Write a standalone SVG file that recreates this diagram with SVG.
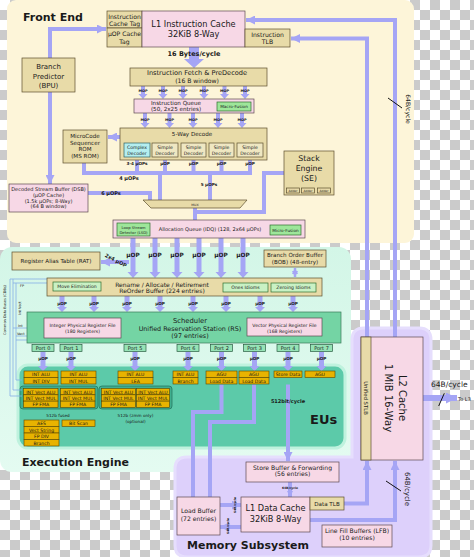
<svg xmlns="http://www.w3.org/2000/svg" width="474" height="557" viewBox="0 0 474 557">
<defs>
<pattern id="chk" width="20" height="20" patternUnits="userSpaceOnUse"><rect width="20" height="20" fill="#fff"/><rect x="10" width="10" height="10" fill="#cbcbcb"/><rect y="10" width="10" height="10" fill="#cbcbcb"/></pattern>
<linearGradient id="mint" x1="0" y1="0" x2="0" y2="1"><stop offset="0" stop-color="#d3f6e7"/><stop offset="1" stop-color="#e4fbf1"/></linearGradient>
<marker id="ah" markerUnits="userSpaceOnUse" markerWidth="9" markerHeight="9" viewBox="0 0 10 10" refX="10" refY="5" orient="auto"><path d="M0,0 L10,5 L0,10 z" fill="#a5a5f5"/></marker>
<marker id="as" markerUnits="userSpaceOnUse" markerWidth="6" markerHeight="6" viewBox="0 0 10 10" refX="10" refY="5" orient="auto-start-reverse"><path d="M0,0 L10,5 L0,10 z" fill="#a5a5f5"/></marker>
<marker id="al" markerUnits="userSpaceOnUse" markerWidth="11" markerHeight="11" viewBox="0 0 10 10" refX="10" refY="5" orient="auto"><path d="M0,0 L10,5 L0,10 z" fill="#a5a5f5"/></marker>
<style>
text{font-family:"DejaVu Sans","Liberation Sans",sans-serif;fill:#1a1a1a}
.b{font-weight:bold}
.m{text-anchor:middle}
.tan{fill:#e8dba8;stroke:#5c4f2e;stroke-width:.7}
.pink{fill:#f7d8e6;stroke:#5c4a50;stroke-width:.7}
.grn{fill:#9ee69a;stroke:#2e6e2e;stroke-width:.7}
.lg{fill:#c9f1c4;stroke:#2e6e2e;stroke-width:.7}
.eu{fill:#e8b300;stroke:#594500;stroke-width:.6}
.port{fill:#96e3b6;stroke:#2b5e43;stroke-width:.7}
.dec{fill:#efe7c2;stroke:#5c4f2e;stroke-width:.7}
.bus{fill:none;stroke:#a5a5f5;stroke-width:4}
.ar{fill:#a5a5f5}
.cdb{fill:none;stroke:#86aee6;stroke-width:.8}
.sl{stroke:#111;stroke-width:1}
.s3{font-size:3.5px}.s4{font-size:4.2px}.s45{font-size:4.6px}.s5{font-size:5px}.s55{font-size:5.6px}.s6{font-size:6.1px}.s7{font-size:7px}.s8{font-size:8.2px}
</style>
</defs>
<rect width="474" height="557" fill="url(#chk)"/>

<g id="containers">
<rect id="front-end-area" x="7" y="0" width="407" height="243" rx="9" fill="#fdf5d9"/>
<rect id="execution-engine-area" x="0" y="247" width="351" height="225" rx="12" fill="url(#mint)"/>
<path id="memory-subsystem-area" d="M187,457 H352 V340 Q352,328 364,328 H419 Q431,328 431,340 V545 Q431,557 419,557 H187 Q175,557 175,545 V469 Q175,457 187,457 Z" fill="#ddd0fb" stroke="#e6defd" stroke-width="3"/>
<rect id="eus-area" x="18" y="365" width="327" height="83" rx="10" fill="#5ccaa9" stroke="#bff2de" stroke-width="3"/>
<rect x="20" y="386" width="78" height="23" rx="3" fill="#3fae8f" stroke="#20705a" stroke-width=".7"/>
<rect x="99" y="386" width="73" height="23" rx="3" fill="#3fae8f" stroke="#20705a" stroke-width=".7"/>
<text x="23" y="21" class="b" font-size="11">Front End</text>
<text x="22" y="466" class="b" font-size="11">Execution Engine</text>
<text x="187" y="549" class="b" font-size="11">Memory Subsystem</text>
<text x="310" y="424" class="b" font-size="13">EUs</text>
</g>

<g id="connectors">
<path class="bus" d="M395,337 V20 H246" marker-end="url(#ah)"/>
<path class="bus" d="M367,337 V38.5 H291" marker-end="url(#ah)"/>
<path class="bus" d="M50,75 V29 H106" marker-end="url(#ah)"/>
<path class="bus" d="M50,75 V184" marker-end="url(#ah)"/>
<path class="ar" d="M189,47 h10 v12 h5 l-10,9 l-10,-9 h5 z"/>
<text x="194" y="56" class="b m" font-size="6.5">16 Bytes/cycle</text>
<path class="ar" d="M141,86 h4 v8 h2.5 l-4.5,5 l-4.5,-5 h2.5 z M161,86 h4 v8 h2.5 l-4.5,5 l-4.5,-5 h2.5 z M181,86 h4 v8 h2.5 l-4.5,5 l-4.5,-5 h2.5 z M202,86 h4 v8 h2.5 l-4.5,5 l-4.5,-5 h2.5 z M222.5,86 h4 v8 h2.5 l-4.5,5 l-4.5,-5 h2.5 z M243,86 h4 v8 h2.5 l-4.5,5 l-4.5,-5 h2.5 z"/>
<g class="b m s3"><text x="143" y="92">MOP</text><text x="163" y="92">MOP</text><text x="183" y="92">MOP</text><text x="204" y="92">MOP</text><text x="224.5" y="92">MOP</text><text x="245" y="92">MOP</text></g>
<path class="ar" d="M143,113 h4 v10 h2.5 l-4.5,5 l-4.5,-5 h2.5 z M167.5,113 h4 v10 h2.5 l-4.5,5 l-4.5,-5 h2.5 z M191,113 h4 v10 h2.5 l-4.5,5 l-4.5,-5 h2.5 z M216,113 h4 v10 h2.5 l-4.5,5 l-4.5,-5 h2.5 z M240,113 h4 v10 h2.5 l-4.5,5 l-4.5,-5 h2.5 z"/>
<g class="b m s3"><text x="145" y="121">MOP</text><text x="169.5" y="121">MOP</text><text x="193" y="121">MOP</text><text x="218" y="121">MOP</text><text x="242" y="121">MOP</text></g>
<path class="bus" d="M120,137 H108" marker-end="url(#ah)"/>
<path class="bus" d="M137,157 V173 M165,157 V173 M193.5,157 V173 M221.5,157 V173 M250,157 V173 M84,163 V173 H252 M160,173 V201 M210,173 V201"/>
<path class="bus" d="M88,193 H150 V201"/>
<path class="bus" d="M195,208 V220 M284,173 H264 V212 H193"/>
<g class="b m"><text x="129" y="180" class="s5">4 µOPs</text><text x="111" y="195" class="s5">6 µOPs</text><text x="209" y="186" class="s4">5 µOPs</text>
<text x="137" y="165" class="s4">3-4 µOPs</text><text x="165" y="165" class="s4">µOP</text><text x="193.5" y="165" class="s4">µOP</text><text x="221.5" y="165" class="s4">µOP</text><text x="250" y="165" class="s4">µOP</text></g>
<path class="ar" d="M130.5,238 h5 v34 h3 l-5.5,6 l-5.5,-6 h3 z M152.5,238 h5 v34 h3 l-5.5,6 l-5.5,-6 h3 z M174.5,238 h5 v34 h3 l-5.5,6 l-5.5,-6 h3 z M196.5,238 h5 v34 h3 l-5.5,6 l-5.5,-6 h3 z M218.5,238 h5 v34 h3 l-5.5,6 l-5.5,-6 h3 z M240.5,238 h5 v34 h3 l-5.5,6 l-5.5,-6 h3 z"/>
<g class="b m" font-size="5.8"><text x="133" y="257">µOP</text><text x="155" y="257">µOP</text><text x="177" y="257">µOP</text><text x="199" y="257">µOP</text><text x="221" y="257">µOP</text><text x="243" y="257">µOP</text></g>
<path class="bus" d="M129,262 H101" marker-end="url(#ah)"/>
<text class="b m s5" transform="translate(115,262) rotate(28)">2x4 µOP</text>
<path d="M295,268 V277" stroke="#a5a5f5" stroke-width="2.5" marker-start="url(#as)" marker-end="url(#as)"/>
<path class="ar" d="M59.5,296 h5 v11 h2.5 l-5,5 l-5,-5 h2.5 z M91.5,296 h5 v11 h2.5 l-5,5 l-5,-5 h2.5 z M124.5,296 h5 v11 h2.5 l-5,5 l-5,-5 h2.5 z M157.5,296 h5 v11 h2.5 l-5,5 l-5,-5 h2.5 z M190.5,296 h5 v11 h2.5 l-5,5 l-5,-5 h2.5 z M223.5,296 h5 v11 h2.5 l-5,5 l-5,-5 h2.5 z M257.5,296 h5 v11 h2.5 l-5,5 l-5,-5 h2.5 z M290.5,296 h5 v11 h2.5 l-5,5 l-5,-5 h2.5 z"/>
<g class="b m s4"><text x="62" y="305">µOP</text><text x="94" y="305">µOP</text><text x="127" y="305">µOP</text><text x="160" y="305">µOP</text><text x="193" y="305">µOP</text><text x="226" y="305">µOP</text><text x="260" y="305">µOP</text><text x="293" y="305">µOP</text></g>
<path class="ar" d="M40.5,351.5 h5 v14.5 h2.5 l-5,5 l-5,-5 h2.5 z M68.5,351.5 h5 v14.5 h2.5 l-5,5 l-5,-5 h2.5 z M132.5,351.5 h5 v14.5 h2.5 l-5,5 l-5,-5 h2.5 z M185.5,351.5 h5 v14.5 h2.5 l-5,5 l-5,-5 h2.5 z M219,351.5 h5 v14.5 h2.5 l-5,5 l-5,-5 h2.5 z M252,351.5 h5 v14.5 h2.5 l-5,5 l-5,-5 h2.5 z M285.5,351.5 h5 v14.5 h2.5 l-5,5 l-5,-5 h2.5 z M319,351.5 h5 v14.5 h2.5 l-5,5 l-5,-5 h2.5 z"/>
<g class="b m s4"><text x="43" y="360">µOP</text><text x="71" y="360">µOP</text><text x="135" y="360">µOP</text><text x="188" y="360">µOP</text><text x="221.5" y="360">µOP</text><text x="254.5" y="360">µOP</text><text x="288" y="360">µOP</text><text x="321.5" y="360">µOP</text></g>
<path class="bus" d="M288,384.5 V461" marker-end="url(#ah)"/>
<text x="288" y="403" class="b m s5">512bit/cycle</text>
<path class="bus" d="M221.5,384.5 V412 H193 V497"/>
<path class="bus" d="M254,384.5 V422 H210 V497"/>
<path class="bus" d="M290,482 V497" marker-end="url(#as)"/>
<text x="290" y="489" class="b m" font-size="3">64B/cycle</text>
<path class="bus" d="M220,505 H241" marker-end="url(#ah)"/>
<path class="bus" d="M241,527 H220" marker-end="url(#ah)"/>
<text class="b m" font-size="3" transform="translate(236,505) rotate(-90)">64B/cycle</text>
<text class="b m" font-size="3" transform="translate(229,526) rotate(-90)">64B/cycle</text>
<path class="bus" d="M344,503.5 H367 V461" marker-end="url(#ah)"/>
<path class="bus" d="M310,520 H395 V461" marker-end="url(#ah)"/>
<path d="M423,398 H457" stroke="#a5a5f5" stroke-width="6" marker-end="url(#al)"/>
<line class="sl" x1="388" y1="98" x2="402" y2="108"/>
<line class="sl" x1="386" y1="481" x2="401" y2="491"/>
<line class="sl" x1="438.7" y1="406" x2="444.3" y2="393.3"/>
<text class="s6" transform="translate(405.5,109) rotate(90)" text-anchor="middle">64B/cycle</text>
<text class="s7" transform="translate(404.5,489) rotate(90)" text-anchor="middle">64B/cycle</text>
<text x="431" y="387" font-size="7.5">64B/cycle</text>
<text x="458" y="401" class="s5">To L3</text>
<g id="cdb">
<path class="cdb" d="M10,279 V396 M13,279 V390 M16,283 V380 M10,279 H47 M13,283 H47 M16,340 H27 M13,328 H27 M16,336 H27 M10,396 H22 M13,390 H22 M16,380 H22"/>
<text class="s3" transform="translate(6,310) rotate(-90)" text-anchor="middle">Common Data Buses (CDBs)</text>
<text x="20" y="287" class="s3">FP</text>
<text class="s3" transform="translate(21,308) rotate(-90)" text-anchor="middle">Int Vect</text>
<text x="18" y="327" class="s3">Int</text>
<text x="17" y="335" class="s3">Vect</text>
</g>
</g>

<g id="instruction-cache-tag"><rect class="tan" x="107" y="11" width="35" height="17"/><text class="m s6" x="124.5" y="18.5">Instruction</text><text class="m s6" x="124.5" y="25.8">Cache Tag</text></g>
<g id="uop-cache-tag"><rect class="tan" x="107" y="28" width="35" height="19"/><text class="m s6" x="124.5" y="36">µOP Cache</text><text class="m s6" x="124.5" y="43.5">Tag</text></g>
<g id="l1-icache"><rect class="pink" x="142" y="11" width="103" height="36"/><text class="m s8" x="193.5" y="26.5">L1 Instruction Cache</text><text class="m s8" x="193.5" y="37">32KiB 8-Way</text></g>
<g id="itlb"><rect class="tan" x="245" y="29" width="45" height="18"/><text class="m s6" x="267.5" y="36.5">Instruction</text><text class="m s6" x="267.5" y="44">TLB</text></g>
<g id="bpu"><rect class="tan" x="22" y="58" width="53" height="34"/><text class="m s7" x="48.5" y="69">Branch</text><text class="m s7" x="48.5" y="78.5">Predictor</text><text class="m s7" x="48.5" y="88">(BPU)</text></g>
<g id="fetch"><rect class="tan" x="130" y="68" width="137" height="18"/><text class="m" font-size="6.6" x="197" y="75">Instruction Fetch &amp; PreDecode</text><text class="m s6" x="197" y="83">(16 B window)</text></g>
<g id="instruction-queue"><rect class="pink" x="134" y="99" width="120" height="14"/><text class="m s55" x="176" y="105.3">Instruction Queue</text><text class="m s55" x="176" y="111.3">(50, 2x25 entries)</text>
<rect class="grn" x="217" y="102" width="34" height="9"/><text class="m s4" x="234" y="108.2">Macro-Fusion</text></g>
<g id="decode"><rect class="tan" x="120" y="128" width="147" height="32"/><text class="m s55" x="192" y="136">5-Way Decode</text>
<rect x="124" y="143" width="26" height="14" fill="#b4eef0" stroke="#2e5e60" stroke-width=".7"/><text class="m s45" x="137" y="149.3">Complex</text><text class="m s45" x="137" y="155">Decoder</text>
<rect class="dec" x="152" y="143" width="26" height="14"/><text class="m s45" x="165" y="149.3">Simple</text><text class="m s45" x="165" y="155">Decoder</text>
<rect class="dec" x="181" y="143" width="25" height="14"/><text class="m s45" x="193.5" y="149.3">Simple</text><text class="m s45" x="193.5" y="155">Decoder</text>
<rect class="dec" x="209" y="143" width="25" height="14"/><text class="m s45" x="221.5" y="149.3">Simple</text><text class="m s45" x="221.5" y="155">Decoder</text>
<rect class="dec" x="237" y="143" width="26" height="14"/><text class="m s45" x="250" y="149.3">Simple</text><text class="m s45" x="250" y="155">Decoder</text></g>
<g id="ms-rom"><rect class="tan" x="63" y="130" width="44" height="33"/><text class="m s55" x="85" y="138">MicroCode</text><text class="m s55" x="85" y="144.5">Sequencer</text><text class="m s55" x="85" y="151">ROM</text><text class="m s55" x="85" y="157.5">(MS ROM)</text></g>
<g id="dsb"><rect class="pink" x="9" y="184" width="79" height="28"/><text class="m s5" x="48.5" y="190.5">Decoded Stream Buffer (DSB)</text><text class="m s5" x="48.5" y="196.5">(µOP Cache)</text><text class="m s5" x="48.5" y="202.5">(1.5k µOPs; 8-Way)</text><text class="m s5" x="48.5" y="208.3">(64 B window)</text></g>
<g id="mux"><polygon class="tan" points="143,200 247,200 240,208 151,208"/><text class="m" font-size="3.2" x="195" y="206">MUX</text></g>
<g id="stack-engine"><rect class="tan" x="284" y="151" width="50" height="44"/><text class="m" font-size="7.8" x="309" y="161">Stack</text><text class="m" font-size="7.8" x="309" y="171">Engine</text><text class="m" font-size="7.8" x="309" y="181">(SE)</text>
<rect class="tan" x="286.5" y="188" width="13" height="5"/><rect class="tan" x="301.5" y="188" width="13" height="5"/><rect class="tan" x="317.5" y="188" width="13" height="5"/>
<g class="m" font-size="3"><text x="293" y="191.8">Adder</text><text x="308" y="191.8">Adder</text><text x="324" y="191.8">Adder</text></g></g>
<g id="idq"><rect class="pink" x="113" y="220" width="192" height="18"/><text class="m s5" x="210" y="231">Allocation Queue (IDQ) (128, 2x64 µOPs)</text>
<rect class="grn" x="117" y="223" width="33" height="13"/><text class="m" font-size="3.8" x="133.5" y="228.7">Loop Stream</text><text class="m" font-size="3.8" x="133.5" y="234">Detector (LSD)</text>
<rect class="grn" x="270" y="225" width="31" height="10"/><text class="m s4" x="285.5" y="231.6">Micro-Fusion</text></g>

<g id="rat"><rect class="tan" x="12" y="252" width="88" height="18"/><text class="m s55" x="56" y="263">Register Alias Table (RAT)</text></g>
<g id="bob"><rect class="tan" x="264" y="250" width="62" height="17"/><text class="m s55" x="295" y="256.8">Branch Order Buffer</text><text class="m s55" x="295" y="263.8">(BOB) (48-entry)</text></g>
<g id="rename"><rect class="tan" x="47" y="278" width="275" height="18"/><text class="m" font-size="6" x="162" y="286.5">Rename / Allocate / Retirement</text><text class="m" font-size="6" x="162" y="293">ReOrder Buffer (224 entries)</text>
<rect class="lg" x="53" y="282" width="48" height="9"/><text class="m s45" x="77" y="288.3">Move Elimination</text>
<rect class="lg" x="223" y="283" width="45" height="9"/><text class="m s45" x="245.5" y="289.3">Ones Idioms</text>
<rect class="lg" x="271" y="283" width="45" height="9"/><text class="m s45" x="293.5" y="289.3">Zeroing Idioms</text></g>
<g id="scheduler"><rect x="27" y="312" width="314" height="31" fill="#74d4a4" stroke="#3a7a5a" stroke-width=".7"/><text class="m" font-size="6.8" x="190" y="323">Scheduler</text><text class="m" font-size="6.4" x="190" y="330.5">Unified Reservation Station (RS)</text><text class="m" font-size="6.4" x="190" y="338">(97 entries)</text>
<rect class="pink" x="44" y="318" width="77" height="20"/><text class="m s45" x="82.5" y="327">Integer Physical Register File</text><text class="m s45" x="82.5" y="333">(180 Registers)</text>
<rect class="pink" x="247" y="318" width="75" height="18"/><text class="m s45" x="284.5" y="327">Vector Physical Register File</text><text class="m s45" x="284.5" y="333">(168 Registers)</text></g>
<g id="ports">
<rect class="port" x="32" y="344.5" width="22" height="7"/><text class="m s5" x="43" y="350">Port 0</text>
<rect class="port" x="60" y="344.5" width="22" height="7"/><text class="m s5" x="71" y="350">Port 1</text>
<rect class="port" x="124" y="344.5" width="22" height="7"/><text class="m s5" x="135" y="350">Port 5</text>
<rect class="port" x="177" y="344.5" width="22" height="7"/><text class="m s5" x="188" y="350">Port 6</text>
<rect class="port" x="210.5" y="344.5" width="22" height="7"/><text class="m s5" x="221.5" y="350">Port 2</text>
<rect class="port" x="243.5" y="344.5" width="22" height="7"/><text class="m s5" x="254.5" y="350">Port 3</text>
<rect class="port" x="277" y="344.5" width="22" height="7"/><text class="m s5" x="288" y="350">Port 4</text>
<rect class="port" x="310.5" y="344.5" width="22" height="7"/><text class="m s5" x="321.5" y="350">Port 7</text></g>
<g id="eus" class="s45">
<rect class="eu" x="24" y="371" width="34" height="6.5"/><text class="m" x="41" y="376.3">INT ALU</text>
<rect class="eu" x="24" y="377.5" width="34" height="6.5"/><text class="m" x="41" y="382.8">INT DIV</text>
<rect class="eu" x="61" y="371" width="35" height="6.5"/><text class="m" x="78.5" y="376.3">INT ALU</text>
<rect class="eu" x="61" y="377.5" width="35" height="6.5"/><text class="m" x="78.5" y="382.8">INT MUL</text>
<rect class="eu" x="118" y="371" width="35" height="6.5"/><text class="m" x="135.5" y="376.3">INT ALU</text>
<rect class="eu" x="118" y="377.5" width="35" height="6.5"/><text class="m" x="135.5" y="382.8">LEA</text>
<rect class="eu" x="173" y="371" width="25" height="6.5"/><text class="m" x="185.5" y="376.3">INT ALU</text>
<rect class="eu" x="173" y="377.5" width="25" height="6.5"/><text class="m" x="185.5" y="382.8">Branch</text>
<rect class="eu" x="206" y="371" width="31" height="6.5"/><text class="m" x="221.5" y="376.3">AGU</text>
<rect class="eu" x="206" y="377.5" width="31" height="6.5"/><text class="m" x="221.5" y="382.8">Load Data</text>
<rect class="eu" x="239" y="371" width="30" height="6.5"/><text class="m" x="254" y="376.3">AGU</text>
<rect class="eu" x="239" y="377.5" width="30" height="6.5"/><text class="m" x="254" y="382.8">Load Data</text>
<rect class="eu" x="274" y="371" width="28" height="6.5"/><text class="m" x="288" y="376.3">Store Data</text>
<rect class="eu" x="305" y="371" width="30" height="6.5"/><text class="m" x="320" y="376.3">AGU</text>
<rect class="eu" x="23.5" y="388.5" width="34.5" height="6.3"/><text class="m" x="40.8" y="393.7">INT Vect ALU</text>
<rect class="eu" x="23.5" y="394.8" width="34.5" height="6.3"/><text class="m" x="40.8" y="400">INT Vect MUL</text>
<rect class="eu" x="23.5" y="401.1" width="34.5" height="6.3"/><text class="m" x="40.8" y="406.3">FP FMA</text>
<rect class="eu" x="60.5" y="388.5" width="34.5" height="6.3"/><text class="m" x="77.8" y="393.7">INT Vect ALU</text>
<rect class="eu" x="60.5" y="394.8" width="34.5" height="6.3"/><text class="m" x="77.8" y="400">INT Vect MUL</text>
<rect class="eu" x="60.5" y="401.1" width="34.5" height="6.3"/><text class="m" x="77.8" y="406.3">FP FMA</text>
<rect class="eu" x="101.5" y="388.5" width="34" height="6.3"/><text class="m" x="118.5" y="393.7">INT Vect ALU</text>
<rect class="eu" x="101.5" y="394.8" width="34" height="6.3"/><text class="m" x="118.5" y="400">INT Vect MUL</text>
<rect class="eu" x="101.5" y="401.1" width="34" height="6.3"/><text class="m" x="118.5" y="406.3">FP FMA</text>
<rect class="eu" x="136.5" y="388.5" width="33" height="6.3"/><text class="m" x="153" y="393.7">INT Vect ALU</text>
<rect class="eu" x="136.5" y="394.8" width="33" height="6.3"/><text class="m" x="153" y="400">INT Vect MUL</text>
<rect class="eu" x="136.5" y="401.1" width="33" height="6.3"/><text class="m" x="153" y="406.3">FP FMA</text>
<text class="m s4" x="58" y="416.5">512b fused</text>
<text class="m s4" x="135.5" y="416.5">512b (zmm only)</text>
<text class="m s4" x="135.5" y="422.5">(optional)</text>
<rect class="eu" x="24" y="420" width="35" height="6.5"/><text class="m" x="41.5" y="425.3">AES</text>
<rect class="eu" x="24" y="426.5" width="35" height="6.5"/><text class="m" x="41.5" y="431.8">Vect String</text>
<rect class="eu" x="24" y="433" width="35" height="6.5"/><text class="m" x="41.5" y="438.3">FP DIV</text>
<rect class="eu" x="24" y="439.5" width="35" height="6.5"/><text class="m" x="41.5" y="444.8">Branch</text>
<rect class="eu" x="62" y="420" width="33" height="6.5"/><text class="m" x="78.5" y="425.3">Bit Scan</text>
</g>

<g id="store-buffer"><rect class="pink" x="246" y="462" width="93" height="20"/><text class="m s6" x="292.5" y="469.5">Store Buffer &amp; Forwarding</text><text class="m s6" x="292.5" y="476.3">(56 entries)</text></g>
<g id="l1-dcache"><rect class="pink" x="241" y="497" width="69" height="35"/><text class="m s8" x="275.5" y="511">L1 Data Cache</text><text class="m s8" x="275.5" y="522">32KiB 8-Way</text></g>
<g id="dtlb"><rect class="tan" x="310" y="497" width="34" height="13"/><text class="m s55" x="327" y="505.7">Data TLB</text></g>
<g id="load-buffer"><rect class="pink" x="177" y="497" width="43" height="38"/><text class="m s6" x="198.5" y="513">Load Buffer</text><text class="m s6" x="198.5" y="521">(72 entries)</text></g>
<g id="lfb"><rect class="pink" x="322" y="525" width="70" height="22"/><text class="m s6" x="357" y="533">Line Fill Buffers (LFB)</text><text class="m s6" x="357" y="540">(10 entries)</text></g>
<g id="l2-cache"><rect class="pink" x="361" y="337" width="62" height="123"/><rect class="tan" x="361" y="337" width="10" height="123"/>
<text class="m" font-size="5.3" transform="translate(364,398) rotate(90)">Unified STLB</text>
<text class="m" font-size="10" transform="translate(398.5,398) rotate(90)">L2 Cache</text>
<text class="m" font-size="10" transform="translate(384.5,398) rotate(90)">1 MiB 16-Way</text></g>
</svg>
